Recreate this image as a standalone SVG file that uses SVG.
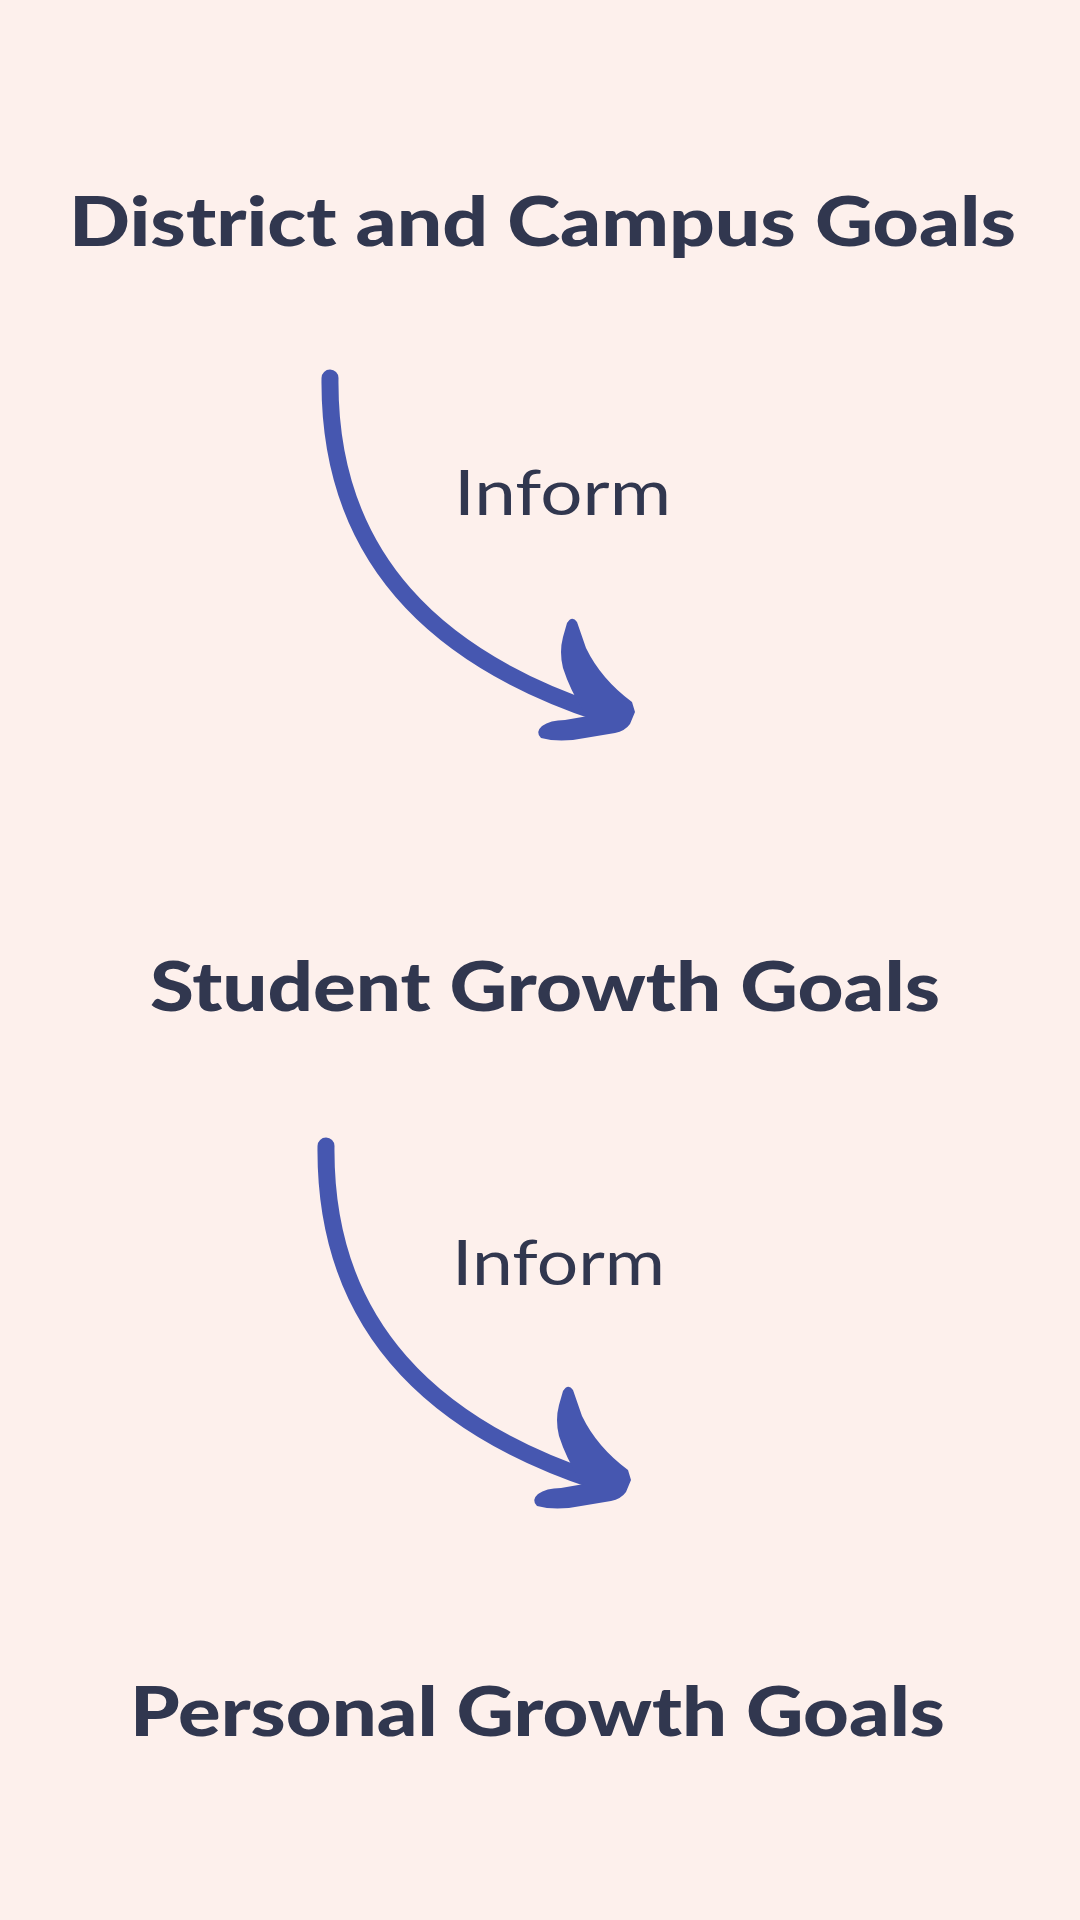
<svg xmlns="http://www.w3.org/2000/svg" xmlns:xlink="http://www.w3.org/1999/xlink" width="1080" height="1920" viewBox="0 0 1080 1920">
<style>
.title{font-family:"Lato","Liberation Sans","DejaVu Sans",sans-serif;font-weight:900;font-size:69px;fill:#31374F}
.lbl{font-family:"Lato","Liberation Sans","DejaVu Sans",sans-serif;font-weight:400;font-size:62px;fill:#31374F}
.shaft{fill:none;stroke:#4657B0;stroke-width:17;stroke-linecap:round}
.head{fill:#4657B0}
</style>
<defs>
<g id="arrowShape">
<path class="shaft" d="M330,378 C328,560 440,660 600,713"/>
<path class="head" d="M567,623 Q572,615 577,622 L586,648 Q601,679 632,702 L635,712 L630,724 Q625,731 615,733 L585,738 Q560,743 541,738 Q535,732 542,726 Q550,720 565,720 L588,716 L584,712 Q570,690 563,668 Q559,652 563,637 Z"/>
</g>
</defs>
<rect width="1080" height="1920" fill="#FDF0EC"/>
<g id="connectors">
<g id="edge1">
<use xlink:href="#arrowShape"/>
<text class="lbl" x="454" y="515" textLength="217" lengthAdjust="spacingAndGlyphs">Inform</text>
</g>
<g id="edge2">
<use xlink:href="#arrowShape" transform="translate(-4,768)"/>
<text class="lbl" x="452" y="1285" textLength="213" lengthAdjust="spacingAndGlyphs">Inform</text>
</g>
</g>
<g id="node-district">
<text class="title" x="69" y="246" textLength="947" lengthAdjust="spacingAndGlyphs">District and Campus Goals</text>
</g>
<g id="node-student">
<text class="title" x="150" y="1011" textLength="790" lengthAdjust="spacingAndGlyphs">Student Growth Goals</text>
</g>
<g id="node-personal">
<text class="title" x="130" y="1736" textLength="815" lengthAdjust="spacingAndGlyphs">Personal Growth Goals</text>
</g>
</svg>
